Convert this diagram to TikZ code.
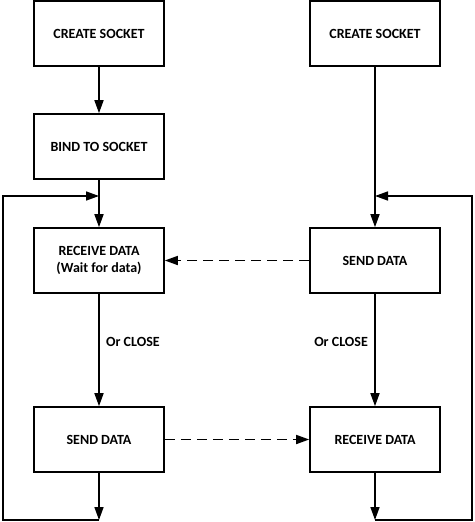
\documentclass[tikz,border=0pt]{standalone}
\usepackage{fontspec}
\setmainfont{Carlito}
\usetikzlibrary{arrows.meta}

\begin{document}
\begin{tikzpicture}[x=1pt, y=-1pt,
    stagebox/.style={draw, line width=1.6pt, minimum width=130pt, minimum height=65pt,
        align=center, font=\fontsize{14}{17}\selectfont\bfseries},
    flow/.style={line width=1.6pt, -{Triangle[length=13pt, width=9pt]}},
    msg/.style={flow, dash pattern=on 10pt off 6pt},
    lbl/.style={font=\fontsize{14}{17}\selectfont\bfseries}]
    \useasboundingbox (0, 0) rectangle (474, 522);
    % server side
    \node[stagebox] (srvCreate) at (99, 33.5) {CREATE SOCKET};
    \node[stagebox] (srvBind) at (99, 146.5) {BIND TO SOCKET};
    \node[stagebox] (srvRecv) at (99, 260.5) {RECEIVE DATA\\(Wait for data)};
    \node[stagebox] (srvSend) at (99, 439.5) {SEND DATA};
    % client side
    \node[stagebox] (cliCreate) at (375, 33.5) {CREATE SOCKET};
    \node[stagebox] (cliSend) at (375, 260.5) {SEND DATA};
    \node[stagebox] (cliRecv) at (375, 439.5) {RECEIVE DATA};
    % loop corners
    \coordinate (srvIn) at (99, 196);
    \coordinate (srvOut) at (99, 520);
    \coordinate (cliIn) at (375, 196);
    \coordinate (cliOut) at (375, 520);
    \draw[flow] (srvCreate) -- (srvBind);
    \draw[flow] (srvBind) -- (srvRecv);
    \draw[flow] (srvRecv) -- node[lbl, right=3pt, pos=0.43] {Or CLOSE} (srvSend);
    \draw[flow] (srvSend) -- (srvOut);
    \draw[flow] (srvOut) -- (3, 520) -- (3, 196) -- (srvIn);
    \draw[flow] (cliCreate) -- (cliSend);
    \draw[flow] (cliSend) -- node[lbl, left=3pt, pos=0.43] {Or CLOSE} (cliRecv);
    \draw[flow] (cliRecv) -- (cliOut);
    \draw[flow] (cliOut) -- (472, 520) -- (472, 196) -- (cliIn);
    % messages
    \draw[msg] (cliSend) -- (srvRecv);
    \draw[msg] (srvSend) -- (cliRecv);
\end{tikzpicture}
\end{document}
